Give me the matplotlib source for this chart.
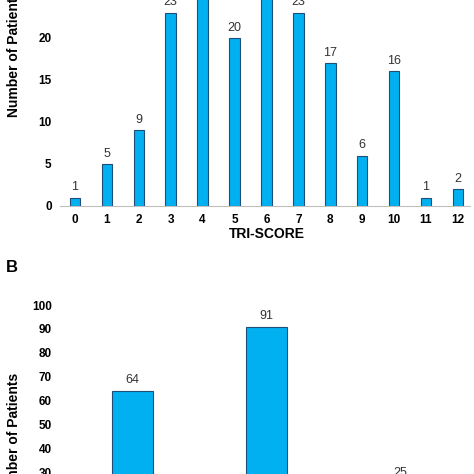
import matplotlib
matplotlib.use("Agg")
import matplotlib.pyplot as plt

plt.rcParams['font.family'] = ['Liberation Sans', 'DejaVu Sans']

scores = list(range(13))
counts = [1, 5, 9, 23, 29, 20, 28, 23, 17, 6, 16, 1, 2]
groups = ["0-3", "4-7", "8-12"]
group_counts = [64, 91, 25]

W = H = 474
fig = plt.figure(figsize=(4.74, 4.74), dpi=100)

def ax_at(l, t, r, b):
    return fig.add_axes([l / W, 1 - b / H, (r - l) / W, (b - t) / H])

color = '#00B0F0'
edge = '#1F4E79'

ax1 = ax_at(60, 0, 470, 206)
ax1.bar(scores, counts, width=0.33, color=color, edgecolor=edge, linewidth=0.8)
ax1.set_xlim(-0.47, 12.38)
ax1.set_ylim(0, 24.5)
ax1.set_yticks([0, 5, 10, 15, 20])
ax1.set_xticks(scores)
for i, v in zip(scores, counts):
    ax1.text(i, v + 0.5, str(v), ha='center', va='bottom', fontsize=9, color='#333333')
ax2 = ax_at(60, 305, 470, 544)
ax2.bar(range(3), group_counts, width=0.31, color=color, edgecolor=edge, linewidth=0.8)
ax2.set_xlim(-0.54, 2.52)
ax2.set_ylim(0, 100)
ax2.set_yticks(range(0, 101, 10))
ax2.set_xticks(range(3))
ax2.set_xticklabels(groups)
for i, v in enumerate(group_counts):
    ax2.text(i, v + 2, str(v), ha='center', va='bottom', fontsize=9, color='#333333')

for ax in (ax1, ax2):
    for s in ('top', 'right', 'left'):
        ax.spines[s].set_visible(False)
    ax.spines['bottom'].set_color('#BFBFBF')
    ax.tick_params(length=0, labelsize=8.5, pad=6)
    for lab in ax.get_xticklabels() + ax.get_yticklabels():
        lab.set_fontweight('bold')

fig.text(267 / W, 1 - 234 / H, 'TRI-SCORE', ha='center', va='center', fontsize=10, fontweight='bold')
fig.text(14 / W, 1 - 53 / H, 'Number of Patients', rotation=90, ha='center', va='center', fontsize=10, fontweight='bold')
fig.text(14 / W, 1 - 436 / H, 'Number of Patients', rotation=90, ha='center', va='center', fontsize=10, fontweight='bold')
fig.text(12 / W, 1 - 267 / H, 'B', ha='center', va='center', fontsize=12, fontweight='bold')

fig.savefig('out.png', dpi=100)
